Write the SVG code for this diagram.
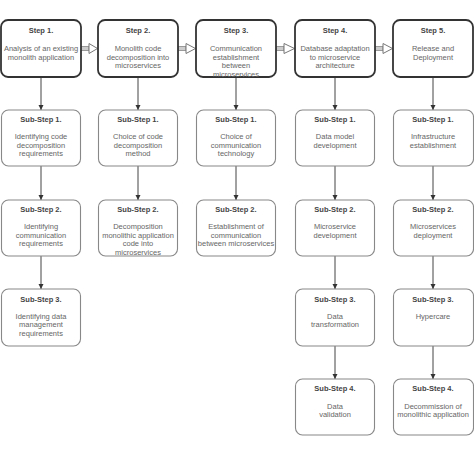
<svg xmlns="http://www.w3.org/2000/svg" width="474" height="456" viewBox="0 0 474 456">
<style>
.step{fill:#fff;stroke:#333;stroke-width:1.8}
.sub{fill:#fff;stroke:#888;stroke-width:1.1}
.t{font-family:"Liberation Sans",Arial,sans-serif;font-size:7.5px;font-weight:bold;fill:#444;text-anchor:middle}
.b{font-family:"Liberation Sans",Arial,sans-serif;font-size:7.5px;fill:#666;text-anchor:middle}
.c{stroke:#444;stroke-width:1;fill:none}
.shaft{fill:#ccc;stroke:#888;stroke-width:0.8}
.head{fill:#fff;stroke:#777;stroke-width:1}
</style>
<defs>
<marker id="ah" markerWidth="6" markerHeight="6" refX="5" refY="3" orient="auto" markerUnits="userSpaceOnUse">
<path d="M0,0.5 L5,3 L0,5.5 Z" fill="#333"/>
</marker>
</defs>
<rect width="474" height="456" fill="#fff"/>
<g id="connectors">
<g id="block-arrows">
<rect class="shaft" x="81" y="46.5" width="8" height="4"/><path class="head" d="M89,43.5 L97.5,48.5 L89,53.5 Z"/>
<rect class="shaft" x="178" y="46.5" width="8" height="4"/><path class="head" d="M186,43.5 L195.5,48.5 L186,53.5 Z"/>
<rect class="shaft" x="276" y="46.5" width="8" height="4"/><path class="head" d="M284,43.5 L294.5,48.5 L284,53.5 Z"/>
<rect class="shaft" x="375" y="46.5" width="8" height="4"/><path class="head" d="M383,43.5 L392.5,48.5 L383,53.5 Z"/>
</g>
<g id="vertical">
<line class="c" x1="41" y1="77" x2="41" y2="110" marker-end="url(#ah)"/>
<line class="c" x1="41" y1="166" x2="41" y2="200" marker-end="url(#ah)"/>
<line class="c" x1="41" y1="256" x2="41" y2="289" marker-end="url(#ah)"/>
<line class="c" x1="138" y1="77" x2="138" y2="110" marker-end="url(#ah)"/>
<line class="c" x1="138" y1="166" x2="138" y2="200" marker-end="url(#ah)"/>
<line class="c" x1="236" y1="77" x2="236" y2="110" marker-end="url(#ah)"/>
<line class="c" x1="236" y1="166" x2="236" y2="200" marker-end="url(#ah)"/>
<line class="c" x1="335" y1="77" x2="335" y2="110" marker-end="url(#ah)"/>
<line class="c" x1="335" y1="166" x2="335" y2="200" marker-end="url(#ah)"/>
<line class="c" x1="335" y1="256" x2="335" y2="289" marker-end="url(#ah)"/>
<line class="c" x1="335" y1="346" x2="335" y2="379" marker-end="url(#ah)"/>
<line class="c" x1="433" y1="77" x2="433" y2="110" marker-end="url(#ah)"/>
<line class="c" x1="433" y1="166" x2="433" y2="200" marker-end="url(#ah)"/>
<line class="c" x1="433" y1="256" x2="433" y2="289" marker-end="url(#ah)"/>
<line class="c" x1="433" y1="346" x2="433" y2="379" marker-end="url(#ah)"/>
</g>
</g>

<g id="step1"><rect class="step" x="1" y="20" width="80" height="57" rx="7"/>
<text class="t" x="41" y="33">Step 1.</text>
<text class="b" x="41" y="51">Analysis of an existing</text><text class="b" x="41" y="59.5">monolith application</text></g>
<g id="step2"><rect class="step" x="98" y="20" width="80" height="57" rx="7"/>
<text class="t" x="138" y="33">Step 2.</text>
<text class="b" x="138" y="51">Monolith code</text><text class="b" x="138" y="59.5">decomposition into</text><text class="b" x="138" y="68">microservices</text></g>
<g id="step3"><rect class="step" x="196" y="20" width="80" height="57" rx="7"/>
<text class="t" x="236" y="33">Step 3.</text>
<text class="b" x="236" y="51">Communication</text><text class="b" x="236" y="59.5">establishment</text><text class="b" x="236" y="68">between</text><text class="b" x="236" y="76.5">microservices</text></g>
<g id="step4"><rect class="step" x="295" y="20" width="80" height="57" rx="7"/>
<text class="t" x="335" y="33">Step 4.</text>
<text class="b" x="335" y="51">Database adaptation</text><text class="b" x="335" y="59.5">to microservice</text><text class="b" x="335" y="68">architecture</text></g>
<g id="step5"><rect class="step" x="393" y="20" width="80" height="57" rx="7"/>
<text class="t" x="433" y="33">Step 5.</text>
<text class="b" x="433" y="51">Release and</text><text class="b" x="433" y="59.5">Deployment</text></g>

<g id="c1s1"><rect class="sub" x="1.5" y="110" width="79" height="56" rx="7"/>
<text class="t" x="41" y="122">Sub-Step 1.</text>
<text class="b" x="41" y="139">Identifying code</text><text class="b" x="41" y="147.7">decomposition</text><text class="b" x="41" y="156.4">requirements</text></g>
<g id="c1s2"><rect class="sub" x="1.5" y="200" width="79" height="56" rx="7"/>
<text class="t" x="41" y="212">Sub-Step 2.</text>
<text class="b" x="41" y="229">Identifying</text><text class="b" x="41" y="237.7">communication</text><text class="b" x="41" y="246.4">requirements</text></g>
<g id="c1s3"><rect class="sub" x="1.5" y="289" width="79" height="57" rx="7"/>
<text class="t" x="41" y="301.5">Sub-Step 3.</text>
<text class="b" x="41" y="318.5">Identifying data</text><text class="b" x="41" y="327">management</text><text class="b" x="41" y="335.5">requirements</text></g>

<g id="c2s1"><rect class="sub" x="98.5" y="110" width="79" height="56" rx="7"/>
<text class="t" x="138" y="122">Sub-Step 1.</text>
<text class="b" x="138" y="139">Choice of code</text><text class="b" x="138" y="147.7">decomposition</text><text class="b" x="138" y="156.4">method</text></g>
<g id="c2s2"><rect class="sub" x="98.5" y="200" width="79" height="56" rx="7"/>
<text class="t" x="138" y="212">Sub-Step 2.</text>
<text class="b" x="138" y="229">Decomposition</text><text class="b" x="138" y="237.7">monolithic application</text><text class="b" x="138" y="246.4">code into</text><text class="b" x="138" y="255.1">microservices</text></g>

<g id="c3s1"><rect class="sub" x="196.5" y="110" width="79" height="56" rx="7"/>
<text class="t" x="236" y="122">Sub-Step 1.</text>
<text class="b" x="236" y="139">Choice of</text><text class="b" x="236" y="147.7">communication</text><text class="b" x="236" y="156.4">technology</text></g>
<g id="c3s2"><rect class="sub" x="196.5" y="200" width="79" height="56" rx="7"/>
<text class="t" x="236" y="212">Sub-Step 2.</text>
<text class="b" x="236" y="229">Establishment of</text><text class="b" x="236" y="237.7">communication</text><text class="b" x="236" y="246.4">between microservices</text></g>

<g id="c4s1"><rect class="sub" x="295.5" y="110" width="79" height="56" rx="7"/>
<text class="t" x="335" y="122">Sub-Step 1.</text>
<text class="b" x="335" y="139">Data model</text><text class="b" x="335" y="147.7">development</text></g>
<g id="c4s2"><rect class="sub" x="295.5" y="200" width="79" height="56" rx="7"/>
<text class="t" x="335" y="212">Sub-Step 2.</text>
<text class="b" x="335" y="229">Microservice</text><text class="b" x="335" y="237.7">development</text></g>
<g id="c4s3"><rect class="sub" x="295.5" y="289" width="79" height="57" rx="7"/>
<text class="t" x="335" y="301.5">Sub-Step 3.</text>
<text class="b" x="335" y="318.5">Data</text><text class="b" x="335" y="327">transformation</text></g>
<g id="c4s4"><rect class="sub" x="295.5" y="379" width="79" height="56" rx="7"/>
<text class="t" x="335" y="391">Sub-Step 4.</text>
<text class="b" x="335" y="408.5">Data</text><text class="b" x="335" y="417">validation</text></g>

<g id="c5s1"><rect class="sub" x="393.5" y="110" width="80" height="56" rx="7"/>
<text class="t" x="433" y="122">Sub-Step 1.</text>
<text class="b" x="433" y="139">Infrastructure</text><text class="b" x="433" y="147.7">establishment</text></g>
<g id="c5s2"><rect class="sub" x="393.5" y="200" width="80" height="56" rx="7"/>
<text class="t" x="433" y="212">Sub-Step 2.</text>
<text class="b" x="433" y="229">Microservices</text><text class="b" x="433" y="237.7">deployment</text></g>
<g id="c5s3"><rect class="sub" x="393.5" y="289" width="80" height="57" rx="7"/>
<text class="t" x="433" y="301.5">Sub-Step 3.</text>
<text class="b" x="433" y="318.5">Hypercare</text></g>
<g id="c5s4"><rect class="sub" x="393.5" y="379" width="80" height="56" rx="7"/>
<text class="t" x="433" y="391">Sub-Step 4.</text>
<text class="b" x="433" y="408.5">Decommission of</text><text class="b" x="433" y="417">monolithic application</text></g>
</svg>
